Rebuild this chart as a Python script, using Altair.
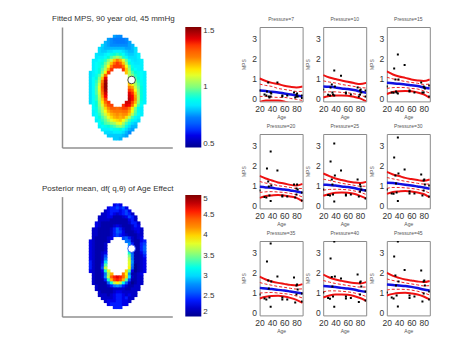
import altair as alt
import pandas as pd

FONT = "Liberation Sans"
JET = ["#00008f", "#0000ff", "#007fff", "#00ffff", "#7fff7f", "#ffff00", "#ff7f00", "#ff0000", "#7f0000"]

# Map values: rows of (first column, cell values)
MAP1 = [
 [(8,[78,76,76])],
 [(6,[78,76,74,74,74,74,76])],
 [(5,[80,78,76,75,74,74,74,75,78])],
 [(4,[84,80,78,76,76,76,76,76,76,78,80])],
 [(3,[84,82,80,80,80,80,80,80,80,78,78,80,84])],
 [(3,[84,82,82,84,84,86,86,86,84,82,80,80,84])],
 [(2,[85,84,84,86,88,90,92,94,92,88,84,82,82,84,86])],
 [(2,[85,86,86,88,92,96,100,104,100,94,88,84,84,84,86])],
 [(1,[86,86,88,90,94,100,108,118,125,120,110,98,88,85,84,85,86])],
 [(1,[86,88,90,92,98,106,118,128,135,130,118,104,92,86,85,85,86])],
 [(1,[86,88,90,94,102,112,125,135,135,135,128,112,98,90,86,86,86])],
 [(1,[86,88,92,97,106,120,135]),(11,[135,118,102,92,88,86,86])],
 [(0,[84,86,88,92,100,112,135]),(12,[118,106,96,92,90,88,86])],
 [(0,[84,86,90,96,108,128]),(13,[105,100,94,90,88,86])],
 [(0,[84,88,92,100,118,140]),(13,[106,104,96,92,88,86])],
 [(0,[84,88,94,104,125,146]),(13,[112,106,100,94,90,86])],
 [(0,[84,88,95,108,130,148]),(13,[118,112,104,96,90,86])],
 [(0,[84,88,96,110,132,148]),(13,[126,122,108,98,92,86])],
 [(0,[84,88,96,110,130,146]),(13,[135,130,112,100,92,86])],
 [(0,[84,88,96,108,126,142]),(13,[140,136,118,102,92,86])],
 [(0,[84,88,94,106,122,138]),(13,[142,138,122,104,92,86])],
 [(0,[84,88,94,104,118,134]),(13,[144,138,124,104,92,86])],
 [(0,[84,88,92,102,114,128,135]),(12,[142,142,134,120,102,90,86])],
 [(1,[88,92,100,110,122,132,134]),(11,[135,140,138,128,112,96,88])],
 [(1,[88,90,98,106,116,124,130,130,128,130,134,134,126,114,100,90,86])],
 [(1,[86,90,96,104,112,120,124,126,126,126,128,128,122,112,98,90,86])],
 [(1,[86,88,94,100,108,115,120,122,124,122,124,124,118,106,96,88,86])],
 [(2,[88,92,96,102,110,116,120,122,120,122,116,106,96,88,86])],
 [(2,[86,90,94,98,104,110,114,116,118,112,104,96,90,86,84])],
 [(3,[88,92,96,98,102,104,110,112,104,96,90,84,82])],
 [(3,[86,88,90,92,94,96,100,102,98,90,84,80,80])],
 [(4,[86,86,86,88,90,90,92,88,84,80,78])],
 [(5,[84,84,84,86,86,86,84,80,76])],
 [(6,[82,82,82,82,82,80,78])],
 [(8,[82,82,80])],
]
MAP2 = [
 [(8,[23,24,23])],
 [(6,[23,24,24,25,24,25,23])],
 [(5,[22,23,24,24,24,23,24,25,23])],
 [(4,[22,22,23,24,23,22,23,24,25,24,22])],
 [(3,[22,22,22,23,23,21,21,21,22,23,25,24,22])],
 [(3,[22,22,22,22,21,21,21,21,21,21,23,24,22])],
 [(2,[23,22,21,21,21,21,21,21,21,21,21,22,24,24,22])],
 [(2,[23,22,21,21,21,21,22,23,22,21,21,21,22,24,23])],
 [(1,[22,22,21,21,21,21,22,24,26,24,22,21,21,22,23,23,22])],
 [(1,[22,22,21,21,21,21,22,24,26,25,23,21,21,21,22,23,22])],
 [(1,[22,22,21,21,21,21,22,24,25,24,23,22,21,21,21,22,22])],
 [(1,[22,21,21,21,21,22,23]),(11,[25,26,24,22,21,22,23])],
 [(0,[23,22,21,21,21,21,22]),(12,[27,26,22,21,21,23,24])],
 [(0,[23,22,21,21,21,22]),(13,[28,24,21,21,24,25])],
 [(0,[23,22,21,21,21,22]),(13,[29,25,21,21,24,26])],
 [(0,[23,22,21,21,21,22]),(13,[31,26,21,21,24,26])],
 [(0,[23,22,21,21,22,23]),(13,[33,26,21,21,23,25])],
 [(0,[23,22,21,21,22,25]),(13,[35,27,21,21,22,24])],
 [(0,[23,22,21,21,22,27]),(13,[37,27,21,21,22,23])],
 [(0,[24,22,21,21,23,30]),(13,[38,28,21,21,22,23])],
 [(0,[24,22,21,21,24,34]),(13,[38,27,20,21,22,23])],
 [(0,[24,22,21,21,25,37]),(13,[39,26,20,21,22,23])],
 [(0,[23,22,21,21,23,33,38]),(12,[40,34,23,20,21,22,23])],
 [(1,[22,21,21,22,27,36,41]),(11,[43,39,28,21,21,22,23])],
 [(1,[22,21,21,22,28,37,44,46,47,46,44,40,30,22,21,22,22])],
 [(1,[22,21,21,21,24,33,41,45,46,45,41,34,25,21,21,22,22])],
 [(1,[22,21,21,21,21,26,32,37,39,37,32,26,22,20,21,22,22])],
 [(2,[22,21,21,21,22,24,27,28,27,24,22,21,21,22,22])],
 [(2,[22,21,21,21,21,21,22,22,22,22,21,21,22,22,22])],
 [(3,[22,21,21,21,21,22,23,23,22,22,22,22,22])],
 [(3,[22,22,22,21,22,23,24,24,23,22,23,22,22])],
 [(4,[22,22,22,22,23,24,24,23,24,22,22])],
 [(5,[22,23,23,23,24,24,23,23,22])],
 [(6,[23,24,24,24,24,23,23])],
 [(8,[24,24,24])],
]

AGES = [20,28,31,32,34,35,36,38,38,39,49,57,57,65,76,78,80,80,81,82,89,89]
POINTS = {
 7:  [.4,.2,.15,.35,.8,.1,.05,.3,.1,.25,.8,.1,.15,.15,.3,.05,.2,.1,.25,.1,.15,.02],
 10: [.45,.18,.15,.55,.7,.3,.2,1.4,.15,.6,1.13,.25,.3,.2,.55,.1,.4,.2,.45,.3,.4,.1],
 15: [.6,.3,.28,1.5,.95,.35,.3,2.2,.25,.95,1.68,.4,.35,.3,.8,.3,.6,.3,.55,.5,.65,.1],
 20: [.75,.42,.4,1.85,1.2,.95,.5,2.7,.22,1.0,1.75,.5,.45,.45,1.05,.4,.85,.55,1.05,.8,.65,.25],
 25: [.8,.52,.5,2.2,1.3,1.05,.55,3.1,.2,1.5,1.75,.5,.55,.55,1.3,.45,1.05,.7,.95,.8,.75,.35],
 30: [.8,.6,.58,2.4,1.5,1.1,.65,3.4,.22,1.6,1.8,.6,.7,.6,1.55,.5,1.25,.75,1.3,1.05,1.0,.45],
 35: [.9,.7,.65,2.55,1.6,1.2,.75,3.45,.28,1.55,1.8,.65,.75,.65,1.75,.5,1.35,.9,1.4,1.15,.95,.55],
 40: [1.0,.72,.68,2.7,1.78,1.3,.8,3.55,.28,1.8,1.7,.7,.8,.72,1.9,.52,1.5,.9,1.55,1.3,1.05,.6],
 45: [1.0,.75,.7,2.8,1.85,1.35,.85,3.55,.3,1.55,2.13,.72,.85,.8,2.1,.55,1.55,.95,1.6,1.35,1.05,.65],
}

CURVE_AGES = [20,30,40,50,60,70,80,90]
UPPER = {
 7:[1.0,.87,.78,.72,.63,.58,.55,.6], 10:[1.17,1.05,.97,.9,.83,.77,.72,.78],
 15:[1.35,1.2,1.1,1.03,.95,.9,.87,.95], 20:[1.48,1.35,1.25,1.15,1.1,1.03,1.0,1.08],
 25:[1.6,1.47,1.35,1.27,1.2,1.15,1.12,1.18], 30:[1.68,1.55,1.47,1.38,1.32,1.27,1.23,1.3],
 35:[1.8,1.65,1.55,1.48,1.43,1.38,1.35,1.42], 40:[1.9,1.75,1.65,1.58,1.52,1.47,1.45,1.52],
 45:[1.98,1.83,1.73,1.65,1.6,1.55,1.52,1.58],
}
MEAN = {
 7:[.4,.37,.33,.3,.25,.2,.15,.1], 10:[.6,.58,.55,.5,.47,.42,.35,.28],
 15:[.78,.76,.73,.7,.66,.62,.55,.5], 20:[.93,.9,.88,.83,.8,.75,.7,.63],
 25:[1.04,1.02,1.0,.95,.92,.87,.8,.75], 30:[1.13,1.12,1.08,1.04,1.0,.95,.9,.83],
 35:[1.23,1.2,1.17,1.13,1.1,1.05,1.0,.95], 40:[1.32,1.3,1.27,1.23,1.2,1.15,1.08,1.03],
 45:[1.4,1.38,1.35,1.32,1.28,1.22,1.15,1.1],
}
LOWER = {
 7:[-.18,-.1,-.1,-.1,-.15,-.25,-.3,-.4], 10:[.05,.12,.15,.15,.13,.08,0,-.15],
 15:[.22,.32,.36,.37,.36,.3,.2,.02], 20:[.38,.47,.5,.52,.5,.45,.38,.2],
 25:[.48,.57,.63,.65,.63,.58,.48,.35], 30:[.58,.67,.7,.72,.7,.65,.57,.4],
 35:[.7,.78,.82,.83,.8,.73,.63,.48], 40:[.75,.85,.9,.9,.88,.82,.72,.58],
 45:[.85,.93,.97,.98,.95,.9,.8,.65],
}
INNER_UP = {
 7:[.72,.65,.6,.5,.45,.4,.35,.35], 10:[.88,.82,.77,.7,.65,.6,.55,.52],
 15:[1.06,.98,.91,.85,.8,.76,.7,.72], 20:[1.2,1.12,1.07,.99,.95,.9,.85,.85],
 25:[1.32,1.25,1.18,1.11,1.06,1.01,.96,.96], 30:[1.4,1.33,1.27,1.21,1.16,1.11,1.07,1.07],
 35:[1.5,1.42,1.36,1.3,1.26,1.21,1.17,1.18], 40:[1.6,1.52,1.45,1.4,1.35,1.3,1.27,1.27],
 45:[1.68,1.6,1.54,1.48,1.43,1.38,1.33,1.34],
}
INNER_LOW = {
 7:[.1,.1,.07,.05,.05,0,-.05,-.1], 10:[.32,.33,.33,.3,.28,.23,.17,.05],
 15:[.5,.54,.55,.54,.5,.47,.38,.27], 20:[.65,.68,.69,.67,.65,.6,.53,.42],
 25:[.76,.8,.81,.8,.78,.73,.65,.55], 30:[.85,.9,.9,.88,.85,.8,.73,.62],
 35:[.97,.99,1.0,.97,.94,.9,.82,.72], 40:[1.03,1.08,1.08,1.06,1.03,.98,.9,.8],
 45:[1.12,1.16,1.16,1.15,1.12,1.06,.98,.87],
}
PRESSURES = [7,10,15,20,25,30,35,40,45]
CELL_H = 74.4
MAP_W = 176.1


def map_frame(rows, div):
    out = []
    for k, segs in enumerate(rows):
        for start, vals in segs:
            for i, v in enumerate(vals):
                c = start + i
                out.append(dict(x0=c-.5, x1=c+.72, y0=k-.5, y1=k+.72, v=v/div))
    return pd.DataFrame(out)


def map_panel(rows, div, dom, ticks, title, tdx, tdy, ydom, top, h, ring, bar_y, bar_len):
    xs = alt.Scale(domain=[-9.43, 27.33], nice=False, zero=False, range=[0, 110.3])
    ys = alt.Scale(domain=ydom, nice=False, zero=False, range=[top, top + h])
    color = alt.Scale(domain=dom, range=JET)
    common = dict(title=None, labels=False, ticks=False, grid=False, domainColor="#909090", domainWidth=1.5)
    ax = alt.Axis(offset=top + h - CELL_H, **common)
    ay = alt.Axis(**common)
    cells = alt.Chart(map_frame(rows, div)).mark_rect().encode(
        x=alt.X("x0:Q", scale=xs, axis=ax), x2="x1:Q",
        y=alt.Y("y0:Q", scale=ys, axis=ay), y2="y1:Q",
        color=alt.Color("v:Q", scale=color, legend=alt.Legend(
            orient="none", legendX=123.3, legendY=bar_y, title=None, gradientLength=bar_len,
            gradientThickness=16, values=ticks, labelExpr="format(datum.value, '.2~g')", labelFontSize=8, labelFont=FONT,
            labelBaseline="middle", labelOverlap=False, labelColor="#333333", labelOffset=2, gradientStrokeWidth=0)),
    )
    spot = alt.Chart(pd.DataFrame({"c": [13.77], "k": [14.57]})).mark_point(
        filled=True, fill="white", stroke=ring, strokeWidth=.8, opacity=1, size=58
    ).encode(x=alt.X("c:Q", scale=xs, axis=ax), y=alt.Y("k:Q", scale=ys, axis=ay))
    return alt.layer(cells, spot).properties(
        width=MAP_W, height=CELL_H,
        title=alt.TitleParams(title, font=FONT, fontSize=8, fontWeight="normal", color="#333333",
                              offset=4, dx=tdx, dy=tdy, anchor="start", frame="group"))


def small_panel(p):
    xs = alt.Scale(domain=[20, 90], nice=False, zero=False)
    ys = alt.Scale(domain=[-.15, 3.58], nice=False, zero=False)
    xa = alt.Axis(title="Age", values=[20,40,60,80], grid=False, ticks=False, domain=False,
                  labelFontSize=8.5, labelFont=FONT, labelColor="#333333", labelPadding=3, labelFlush=False,
                  titleFontSize=5, titleFont=FONT, titleColor="#555555", titleFontWeight="normal", titlePadding=2)
    ya = alt.Axis(title="MPS", values=[0,1,2,3], grid=False, ticks=False, domain=False,
                  labelFontSize=8.5, labelFont=FONT, labelColor="#333333", labelPadding=3,
                  titleFontSize=5, titleFont=FONT, titleColor="#555555", titleFontWeight="normal", titlePadding=5)
    def curve(values, name):
        return pd.DataFrame({"age": CURVE_AGES, "val": values, "s": name})
    def line(df, **kw):
        return alt.Chart(df).mark_line(clip=True, interpolate="monotone", **kw).encode(
            x=alt.X("age:Q", scale=xs, axis=xa), y=alt.Y("val:Q", scale=ys, axis=ya), detail="s:N")
    thick = line(pd.concat([curve(UPPER[p], "u"), curve(LOWER[p], "l")]), color="#ee1111", strokeWidth=2)
    dash = line(pd.concat([curve(INNER_UP[p], "u"), curve(INNER_LOW[p], "l")]), color="#ee2222", strokeWidth=1, strokeDash=[3, 2])
    mean = line(curve(MEAN[p], "m"), color="#1010e0", strokeWidth=2.5)
    pts = alt.Chart(pd.DataFrame({"age": AGES, "val": POINTS[p]})).mark_square(
        clip=True, color="black", size=4, opacity=1
    ).encode(x=alt.X("age:Q", scale=xs, axis=xa), y=alt.Y("val:Q", scale=ys, axis=ya))
    return alt.layer(thick, dash, mean, pts).properties(
        width=43, height=CELL_H,
        view=alt.ViewBackground(stroke="#8a8a8a", strokeWidth=1),
        title=alt.TitleParams(f"Pressure={p}", font=FONT, fontSize=5, fontWeight="normal", color="#555555", offset=5))


map1 = map_panel(MAP1, 100, [.5, 1.5], [.5, 1, 1.5], "Fitted MPS, 90 year old, 45 mmHg", -10, 0,
                 [-3.1, 37.1], 0, 120.6, "#222222", 0, 120.6)
map2 = map_panel(MAP2, 10, [2, 5], [2, 2.5, 3, 3.5, 4, 4.5, 5], "Posterior mean, df( q,\u03b8) of Age Effect", -20, 62.6,
                 [-2.77, 37.23], 62.6, 120, "#2040ff", 61, 121.4)
blank = alt.Chart(pd.DataFrame({"a": [0]})).mark_point(opacity=0).encode(
    x=alt.X("a:Q", axis=None), y=alt.Y("a:Q", axis=None)).properties(width=MAP_W, height=CELL_H)

s = [small_panel(p) for p in PRESSURES]
grid = [map1, s[0], s[1], s[2], map2, s[3], s[4], s[5], blank, s[6], s[7], s[8]]

chart = alt.concat(*grid, columns=4, spacing=alt.RowColnumber(row=32, column=20.6),
                   bounds="flush", align="each", background="white").properties(
    padding={"left": 34, "top": 7, "right": 0, "bottom": 0}
).resolve_scale(color="independent").configure(font=FONT).configure_view(stroke=None)

chart.save("out.html", embed_options={"renderer": "svg", "actions": False})
